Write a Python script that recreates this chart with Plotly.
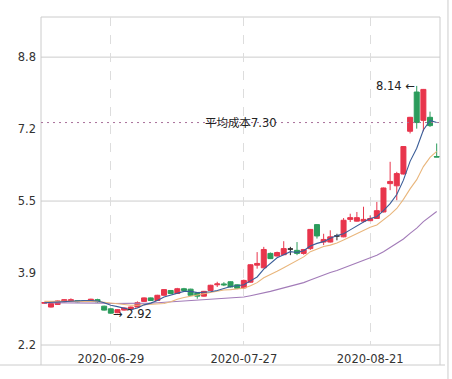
import plotly.graph_objects as go
import pandas as pd

# ---------------- data ----------------
holidays = ['2020-06-25', '2020-06-26']
dates = [d.strftime('%Y-%m-%d') for d in pd.bdate_range('2020-06-11', '2020-09-04')
         if d.strftime('%Y-%m-%d') not in holidays]

opens = [3.16, 3.07, 3.13, 3.19, 3.20, 3.22, 3.22, 3.21, 3.24, 3.09,
         3.03, 2.94, 3.00, 3.02, 3.07, 3.20, 3.28, 3.22, 3.34, 3.45,
         3.38, 3.49, 3.48, 3.39, 3.32, 3.45, 3.58, 3.60, 3.65, 3.58,
         3.51, 3.64, 4.03, 3.97, 4.30, 4.24, 4.27, 4.40, 4.37, 4.30,
         4.41, 4.96, 4.56, 4.56, 4.70, 4.68, 5.08, 5.04, 5.04, 5.05,
         5.10, 5.25, 5.90, 5.85, 6.12, 7.10, 8.00, 7.35, 7.42, 6.52]
highs = [3.18, 3.16, 3.22, 3.25, 3.27, 3.23, 3.23, 3.26, 3.26, 3.10,
         3.04, 3.02, 3.06, 3.08, 3.20, 3.29, 3.29, 3.35, 3.48, 3.46,
         3.51, 3.51, 3.49, 3.40, 3.44, 3.58, 3.65, 3.64, 3.66, 3.59,
         3.70, 4.05, 4.33, 4.45, 4.32, 4.34, 4.58, 4.45, 4.56, 4.40,
         4.86, 4.97, 4.75, 4.83, 4.75, 5.11, 5.21, 5.25, 5.37, 5.17,
         5.48, 5.81, 6.40, 6.17, 6.76, 7.43, 8.14, 8.07, 7.55, 6.82]
lows = [3.15, 3.06, 3.12, 3.18, 3.19, 3.18, 3.19, 3.20, 3.17, 2.99,
        2.92, 2.93, 2.99, 3.01, 3.06, 3.19, 3.21, 3.21, 3.33, 3.37,
        3.37, 3.42, 3.33, 3.26, 3.31, 3.44, 3.53, 3.55, 3.52, 3.48,
        3.49, 3.63, 3.95, 3.96, 4.17, 4.23, 4.26, 4.26, 4.26, 4.27,
        4.38, 4.64, 4.49, 4.55, 4.60, 4.67, 5.02, 5.03, 5.01, 5.04,
        5.09, 5.24, 5.75, 5.52, 6.11, 7.05, 7.16, 7.10, 7.20, 6.51]
closes = [3.17, 3.15, 3.21, 3.24, 3.24, 3.19, 3.20, 3.25, 3.19, 3.00,
          2.93, 3.01, 3.05, 3.07, 3.17, 3.28, 3.22, 3.34, 3.47, 3.38,
          3.49, 3.45, 3.34, 3.32, 3.43, 3.57, 3.60, 3.58, 3.53, 3.50,
          3.68, 4.04, 4.07, 4.39, 4.18, 4.32, 4.41, 4.40, 4.30, 4.39,
          4.85, 4.70, 4.62, 4.68, 4.70, 5.06, 5.12, 5.12, 5.08, 5.10,
          5.28, 5.80, 5.95, 6.13, 6.75, 7.42, 7.30, 8.06, 7.23, 6.51]

ma5 = [3.17, 3.18, 3.19, 3.20, 3.20, 3.21, 3.22, 3.22, 3.21, 3.17,
       3.11, 3.08, 3.04, 3.01, 3.05, 3.12, 3.16, 3.22, 3.30, 3.34,
       3.38, 3.43, 3.43, 3.40, 3.41, 3.42, 3.45, 3.50, 3.54, 3.56,
       3.58, 3.67, 3.76, 3.94, 4.07, 4.20, 4.27, 4.34, 4.32, 4.36,
       4.47, 4.53, 4.57, 4.65, 4.71, 4.75, 4.84, 4.94, 5.02, 5.10,
       5.14, 5.28, 5.44, 5.65, 5.98, 6.41, 6.71, 7.13, 7.35, 7.30]
ma10 = [3.20, 3.20, 3.20, 3.20, 3.20, 3.20, 3.20, 3.20, 3.20, 3.18,
        3.16, 3.15, 3.13, 3.11, 3.11, 3.12, 3.12, 3.13, 3.15, 3.19,
        3.25, 3.29, 3.32, 3.35, 3.37, 3.40, 3.44, 3.46, 3.47, 3.48,
        3.50, 3.56, 3.63, 3.74, 3.81, 3.89, 3.97, 4.05, 4.13, 4.22,
        4.34, 4.40, 4.46, 4.49, 4.54, 4.61, 4.68, 4.75, 4.83, 4.90,
        4.95, 5.06, 5.19, 5.33, 5.54, 5.78, 5.99, 6.29, 6.50, 6.64]
ma30 = [3.17, 3.17, 3.17, 3.17, 3.17, 3.17, 3.17, 3.17, 3.17, 3.16,
        3.15, 3.15, 3.15, 3.15, 3.15, 3.15, 3.16, 3.17, 3.18, 3.19,
        3.20, 3.20, 3.21, 3.22, 3.23, 3.24, 3.25, 3.26, 3.27, 3.29,
        3.30, 3.33, 3.36, 3.40, 3.43, 3.47, 3.51, 3.55, 3.58, 3.63,
        3.69, 3.75, 3.80, 3.86, 3.91, 3.97, 4.03, 4.09, 4.14, 4.20,
        4.26, 4.34, 4.43, 4.52, 4.63, 4.76, 4.88, 5.03, 5.15, 5.26]

avg_cost = 7.30
avg_cost_label = '平均成本7.30'
x_tick_dates = ['2020-06-29', '2020-07-27', '2020-08-21']
y_tick_vals = [2.2, 3.85, 5.5, 7.15, 8.8]
y_tick_text = ['2.2', '3.9', '5.5', '7.2', '8.8']
y_grid_vals = [5.5, 8.8]
y_range = [2.2, 9.72]

# ---------------- style ----------------
RED = '#e8354c'
GREEN = '#2b9c5c'
DOJI = '#2a2a2a'
FONT = 'DejaVu Sans, Noto Sans CJK SC, sans-serif'
FRAME = '#cccccc'

fig = go.Figure()


def subset(cond):
    idx = [i for i in range(len(dates)) if cond(opens[i], closes[i])]
    return dict(x=[dates[i] for i in idx], open=[opens[i] for i in idx],
                high=[highs[i] for i in idx], low=[lows[i] for i in idx],
                close=[closes[i] for i in idx])


for cond, col in [(lambda o, c: c > o, RED), (lambda o, c: c < o, GREEN), (lambda o, c: c == o, DOJI)]:
    d = subset(cond)
    if not d['x']:
        continue
    fig.add_trace(go.Candlestick(
        **d,
        increasing=dict(line=dict(color=col, width=1), fillcolor=col),
        decreasing=dict(line=dict(color=col, width=1), fillcolor=col),
        whiskerwidth=0, hoverinfo='skip', showlegend=False))

for vals, col in [(ma30, '#a27bb8'), (ma10, '#e9b67c'), (ma5, '#3a5d98')]:
    fig.add_trace(go.Scatter(x=dates, y=vals, mode='lines', line=dict(color=col, width=1.1),
                             hoverinfo='skip', showlegend=False))

shapes = []
for gv in y_grid_vals:
    shapes.append(dict(type='line', xref='paper', yref='y', x0=0, x1=1, y0=gv, y1=gv,
                       line=dict(color=FRAME, width=1), layer='below'))
# frame
frame_lines = [
    (0, 1, 1, 1), (0, 0, 1, 0), (0, -0.061, 0, 1), (1, -0.061, 1, 1),
    (-0.1028, -0.061, 1.0125, -0.061), (1.02, -0.104, 1.02, 1.052),
]
for x0, y0, x1, y1 in frame_lines:
    shapes.append(dict(type='line', xref='paper', yref='paper', x0=x0, y0=y0, x1=x1, y1=y1,
                       line=dict(color=FRAME, width=1), layer='below'))
shapes.append(dict(type='line', xref='paper', yref='y', x0=0, x1=1, y0=avg_cost, y1=avg_cost,
                   line=dict(color='#a8709a', width=1, dash='2px,4px'), layer='above'))

imin = lows.index(min(lows))
imax = highs.index(max(highs))
annotations = [
    dict(x=0.5, xref='paper', y=avg_cost, yref='y', text=avg_cost_label, showarrow=False,
         font=dict(family=FONT, size=11.5, color='#222'), xanchor='center', yanchor='middle'),
    dict(x=dates[imin], y=min(lows), text='→ %.2f' % min(lows), showarrow=False,
         font=dict(family=FONT, size=11.5, color='#222'), xanchor='left', yanchor='middle'),
    dict(x=dates[imax], y=max(highs), text='%.2f ←' % max(highs), showarrow=False,
         font=dict(family=FONT, size=11.5, color='#222'), xanchor='right', yanchor='middle'),
]

fig.update_layout(
    width=452, height=379,
    margin=dict(l=41, r=12, t=17, b=34),
    paper_bgcolor='white', plot_bgcolor='white',
    showlegend=False, boxgap=0.25, boxgroupgap=0,
    shapes=shapes, annotations=annotations,
    xaxis=dict(type='category', categoryorder='array', categoryarray=dates,
               range=[-0.5, len(dates) - 0.5], tickvals=x_tick_dates, ticktext=x_tick_dates,
               showgrid=True, gridcolor='#dddddd', griddash='dash', gridwidth=1,
               zeroline=False, showline=False, ticks='', rangeslider=dict(visible=False),
               tickfont=dict(family=FONT, size=11.5, color='#333'), ticklabelstandoff=5),
    yaxis=dict(range=y_range, tickvals=y_tick_vals, ticktext=y_tick_text,
               showgrid=False, zeroline=False, showline=False, ticks='',
               tickfont=dict(family=FONT, size=11.5, color='#333'), ticklabelstandoff=4),
)

fig.write_html('out.html', config={'displayModeBar': False},
               post_script="document.body.style.margin='0';document.body.style.overflow='hidden';")
